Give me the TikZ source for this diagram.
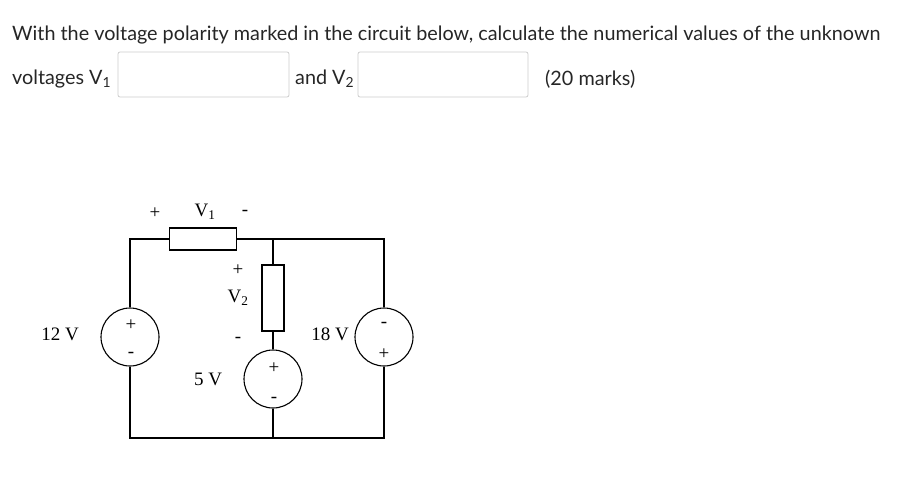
\documentclass[tikz,border=0pt]{standalone}
\usepackage{fontspec}
\setmainfont{Lato}
\newfontfamily\tms{Liberation Serif}
\begin{document}
\begin{tikzpicture}[x=1pt,y=-1pt,
  wire/.style={line width=1.1pt},
  lbl/.style={font=\tms\fontsize{19}{19}\selectfont, inner sep=0pt},
  qtxt/.style={font=\fontsize{19.8}{19.8}\selectfont, inner sep=0pt, anchor=west, text=black!85},
  ansbox/.style={draw=black!20, rounded corners=2pt, line width=0.8pt}]
\useasboundingbox (0,0) rectangle (902,487);
\node[qtxt] (q1) at (12,35) {With the voltage polarity marked in the circuit below, calculate the numerical values of the unknown};
\node[qtxt] (q2) at (12,79) {voltages V\textsubscript{1}};
\draw[ansbox] (118,52) rectangle (289,97);
\node[qtxt] (q3) at (295,79) {and V\textsubscript{2}};
\draw[ansbox] (358,52) rectangle (528,97);
\node[qtxt] (q4) at (545,79) {(20 marks)};
% circuit
\coordinate (tl) at (130,239); \coordinate (tm) at (273,239); \coordinate (tr) at (384,239);
\coordinate (bl) at (130,438); \coordinate (bm) at (273,438); \coordinate (br) at (384,438);
\node[draw, wire, minimum width=67pt, minimum height=22pt, inner sep=0pt] (r1) at (203,239) {};
\node[draw, wire, minimum width=22pt, minimum height=66pt, inner sep=0pt] (r2) at (273,298) {};
\node[draw, wire, circle, minimum size=58pt, inner sep=0pt] (s1) at (130,337) {};
\node[draw, wire, circle, minimum size=58pt, inner sep=0pt] (s2) at (273,379) {};
\node[draw, wire, circle, minimum size=58pt, inner sep=0pt] (s3) at (384,337) {};
\draw[wire] (s1.north) -- (tl) -- (r1.west);
\draw[wire] (r1.east) -- (tr) -- (s3.north);
\draw[wire] (tm) -- (r2.north);
\draw[wire] (r2.south) -- (s2.north);
\draw[wire] (s1.south) -- (bl) -- (br) -- (s3.south);
\draw[wire] (s2.south) -- (bm);
\node[lbl] (a1) at (155,213) {+};
\node[lbl] (a2) at (205,212) {V\textsubscript{1}};
\node[lbl] (a3) at (245,213) {-};
\node[lbl] (b1) at (238,270) {+};
\node[lbl] (b2) at (238,298) {V\textsubscript{2}};
\node[lbl] (b3) at (238,340) {-};
\node[lbl] (c0) at (60,334) {12 V};
\node[lbl] (c1) at (131,325) {+};
\node[lbl] (c2) at (131,355) {-};
\node[lbl] (d0) at (330,334) {18 V};
\node[lbl] (d1) at (384,325) {-};
\node[lbl] (d2) at (384,354) {+};
\node[lbl] (e0) at (208,379) {5 V};
\node[lbl] (e1) at (274,368) {+};
\node[lbl] (e2) at (274,400) {-};
\end{tikzpicture}
\end{document}
